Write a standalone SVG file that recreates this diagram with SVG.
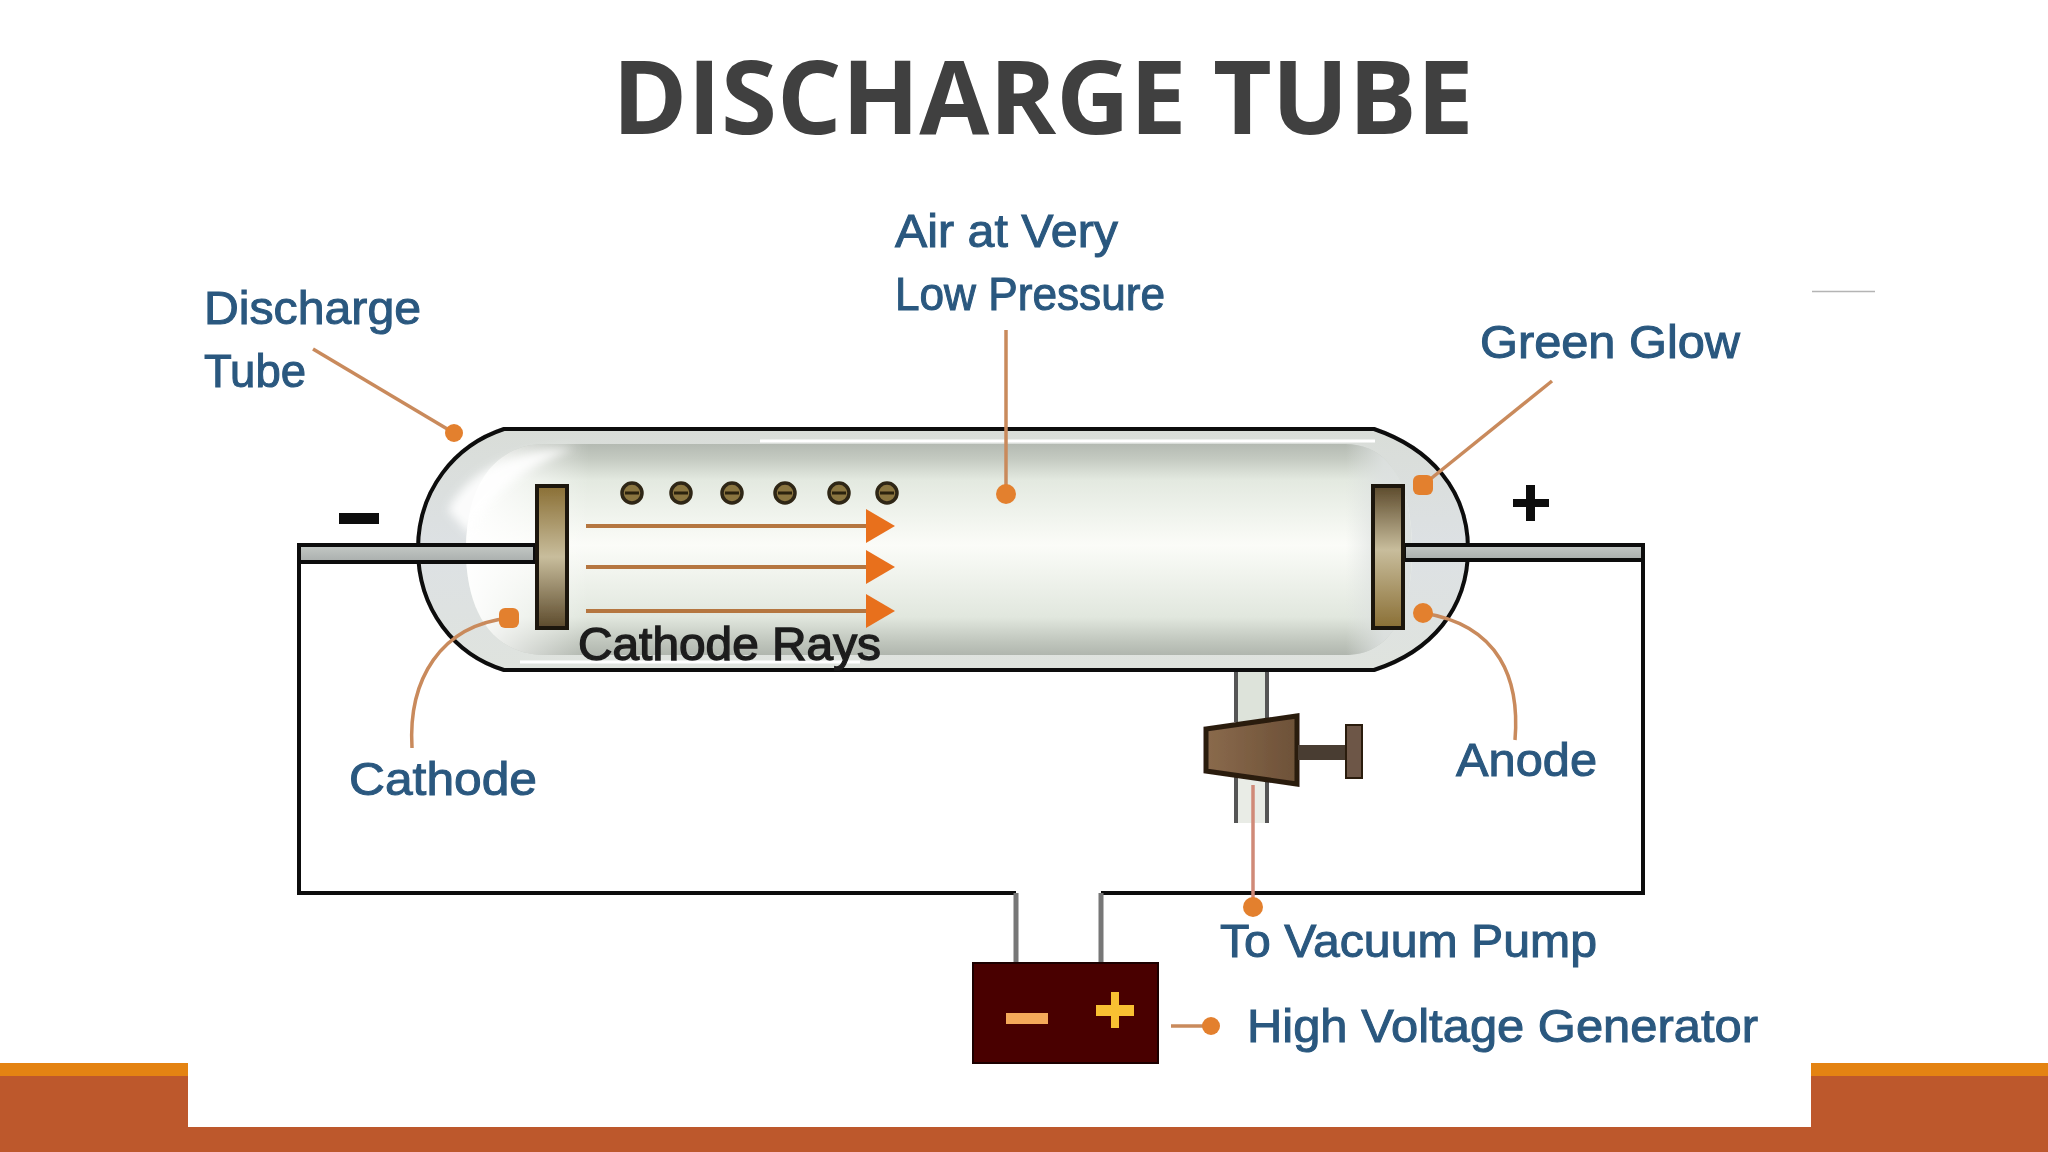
<svg xmlns="http://www.w3.org/2000/svg" width="2048" height="1152" viewBox="0 0 2048 1152">
<defs>
<filter id="soft" x="-2%" y="-2%" width="104%" height="104%"><feGaussianBlur stdDeviation="0.7"/></filter>
<filter id="softer" x="-20%" y="-20%" width="140%" height="140%"><feGaussianBlur stdDeviation="5"/></filter>
<linearGradient id="glass" x1="0" y1="0" x2="0" y2="1"><stop offset="0" stop-color="#d9ddd8"/><stop offset="0.5" stop-color="#dde1e4"/><stop offset="1" stop-color="#dfe3de"/></linearGradient>
<linearGradient id="inner" x1="0" y1="0" x2="0" y2="1"><stop offset="0" stop-color="#b4bab2"/><stop offset="0.07" stop-color="#c4cac1"/><stop offset="0.17" stop-color="#e3e9e0"/><stop offset="0.48" stop-color="#fbfcf8"/><stop offset="0.82" stop-color="#e1e7de"/><stop offset="0.94" stop-color="#bfc5bc"/><stop offset="1" stop-color="#b0b6ae"/></linearGradient>
<linearGradient id="side" x1="0" y1="0" x2="1" y2="0"><stop offset="0" stop-color="#fff" stop-opacity="0.95"/><stop offset="0.13" stop-color="#fff" stop-opacity="0"/><stop offset="0.93" stop-color="#dde1e0" stop-opacity="0"/><stop offset="0.97" stop-color="#dde1e0" stop-opacity="0.9"/><stop offset="1" stop-color="#dde1e0"/></linearGradient>
<linearGradient id="plateL" x1="0" y1="0" x2="0" y2="1"><stop offset="0" stop-color="#8a6f35"/><stop offset="0.5" stop-color="#c8bd9c"/><stop offset="1" stop-color="#5c4a2c"/></linearGradient>
<linearGradient id="plateR" x1="0" y1="0" x2="0" y2="1"><stop offset="0" stop-color="#5c4a2c"/><stop offset="0.45" stop-color="#c8bd9c"/><stop offset="1" stop-color="#8a6f35"/></linearGradient>
<linearGradient id="wire" x1="0" y1="0" x2="0" y2="1"><stop offset="0" stop-color="#c4c9c6"/><stop offset="1" stop-color="#a9aeac"/></linearGradient>
<linearGradient id="cock" x1="0" y1="0" x2="1" y2="0"><stop offset="0" stop-color="#8a6a4c"/><stop offset="1" stop-color="#6d5138"/></linearGradient>
<marker id="ray" markerUnits="userSpaceOnUse" markerWidth="30" markerHeight="34" refX="0" refY="17" orient="auto"><path d="M0 0L29 17L0 34Z" fill="#e8701f"/></marker>
</defs>
<style>
.lbl{font-family:"Liberation Sans",Arial,sans-serif;font-size:46px;fill:#2a587f;stroke:#2a587f;stroke-width:1}
.blk{font-family:"Liberation Sans",Arial,sans-serif;font-size:46px;fill:#1f1f1f;stroke:#1f1f1f;stroke-width:1.4}
.ptr{fill:none;stroke:#c98a5c;stroke-width:3.5}
.dot{fill:#e3802f}
.ln{fill:none;stroke:#0a0a0a;stroke-width:4}
.ray{fill:none;stroke:#b5763f;stroke-width:4;marker-end:url(#ray)}
.e{fill:#8a7440;stroke:#2f2614;stroke-width:3.5}
</style>
<rect width="2048" height="1152" fill="#fff"/>
<rect x="0" y="1063" width="2048" height="13" fill="#e48312"/>
<rect x="0" y="1076" width="2048" height="76" fill="#bd582c"/>
<rect x="188" y="1040" width="1623" height="87" fill="#fff"/>
<line x1="1812" y1="291.500" x2="1875" y2="291.500" stroke="#b4b4b4" stroke-width="1.500"/>
<text x="1043" y="134" text-anchor="middle" font-family="'Open Sans',sans-serif" font-weight="700" font-size="101.500" fill="#404040">DISCHARGE TUBE</text>
<g filter="url(#soft)">
<g id="connectors">
<path class="ln" d="M299 563V893H1016M1643 560V893H1101"/>
<path d="M1016 893V962M1101 893V962" fill="none" stroke="#777" stroke-width="5"/>
</g>
<g id="tube">
<path d="M504 429H1374C1430 448 1468 490 1468 549C1468 610 1430 652 1374 670H504C455 655 418 610 418 549C418 490 455 445 504 429Z" fill="url(#glass)" stroke="#0a0a0a" stroke-width="4"/>
<path d="M1375 441H760" stroke="#fff" stroke-width="3"/>
<path d="M520 662H860" stroke="#fff" stroke-width="3"/>
<path d="M545 444H1345C1390 444 1412 485 1412 550C1412 615 1390 655 1345 655H545C495 655 466 615 466 550C466 485 495 444 545 444Z" fill="url(#inner)"/>
<path d="M545 444H1345C1390 444 1412 485 1412 550C1412 615 1390 655 1345 655H545C495 655 466 615 466 550C466 485 495 444 545 444Z" fill="url(#side)"/>
<path d="M448 510C470 468 515 450 575 448C530 466 490 490 470 535Z" fill="#fff" opacity="0.9" filter="url(#softer)"/>
<rect x="299" y="545" width="236" height="17" fill="url(#wire)" stroke="#0a0a0a" stroke-width="4"/>
<rect x="537" y="486" width="30" height="142" fill="url(#plateL)" stroke="#1c1408" stroke-width="4"/>
<rect x="1404" y="545" width="239" height="15" fill="url(#wire)" stroke="#0a0a0a" stroke-width="4"/>
<rect x="1373" y="486" width="30" height="142" fill="url(#plateR)" stroke="#1c1408" stroke-width="4"/>
</g>
<g id="electrons">
<circle class="e" cx="632" cy="493" r="10"/><circle class="e" cx="681" cy="493" r="10"/><circle class="e" cx="732" cy="493" r="10"/><circle class="e" cx="785" cy="493" r="10"/><circle class="e" cx="839" cy="493" r="10"/><circle class="e" cx="887" cy="493" r="10"/>
<path d="M625 493h14M674 493h14M725 493h14M778 493h14M832 493h14M880 493h14" stroke="#2a2010" stroke-width="3"/>
</g>
<g id="rays">
<path class="ray" d="M586 526H866"/><path class="ray" d="M586 567H866"/><path class="ray" d="M586 611H866"/>
<text class="blk" x="578" y="660" textLength="303" lengthAdjust="spacingAndGlyphs">Cathode Rays</text>
</g>
<g id="stopcock">
<path d="M1236 672V722H1267V672Z" fill="#dde3da"/>
<path d="M1238 775H1265V823H1238Z" fill="#e9ece6"/>
<path d="M1236 672V722M1267 672V722M1236 775V823M1267 775V823" fill="none" stroke="#555" stroke-width="4"/>
<path d="M1206 729L1297 716V784L1206 771Z" fill="url(#cock)" stroke="#2a1c10" stroke-width="5"/>
<rect x="1298" y="745" width="48" height="15" fill="#4a3d30"/>
<rect x="1346" y="725" width="16" height="53" fill="#6d5647" stroke="#2a1c10" stroke-width="2"/>
</g>
<g id="pointers">
<path class="ptr" d="M313 349L454 433"/><circle class="dot" cx="454" cy="433" r="9"/>
<path class="ptr" d="M1006 330V494"/><circle class="dot" cx="1006" cy="494" r="10"/>
<path class="ptr" d="M1552 381L1423 485"/><rect class="dot" x="1413" y="475" width="20" height="20" rx="6"/>
<path class="ptr" d="M412 748C408 680 440 625 510 618"/><rect class="dot" x="499" y="608" width="20" height="20" rx="6"/>
<path class="ptr" d="M1515 740C1520 680 1500 625 1423 613"/><circle class="dot" cx="1423" cy="613" r="10"/>
<path d="M1253 785V907" fill="none" stroke="#d08a78" stroke-width="3.500"/><circle class="dot" cx="1253" cy="907" r="10"/>
<path class="ptr" d="M1171 1026H1213"/><circle class="dot" cx="1211" cy="1026" r="9"/>
</g>
<g id="battery">
<rect x="973" y="963" width="185" height="100" fill="#4a0404" stroke="#1a0505" stroke-width="2"/>
<rect x="1006" y="1013" width="42" height="11" fill="#f4a95a"/>
<path d="M1111 992h8v13h15v11h-15v12h-8v-12h-15v-11h15z" fill="#f8c030"/>
</g>
<g id="signs">
<rect x="339" y="513" width="40" height="11" fill="#0a0a0a"/>
<path d="M1526 485h9v14h14v8h-14v14h-9v-14h-13v-8h13z" fill="#0a0a0a"/>
</g>
<g id="labels">
<text class="lbl" x="204" y="324" textLength="217" lengthAdjust="spacingAndGlyphs">Discharge</text>
<text class="lbl" x="204" y="387" textLength="102" lengthAdjust="spacingAndGlyphs">Tube</text>
<text class="lbl" x="895" y="247" textLength="223" lengthAdjust="spacingAndGlyphs">Air at Very</text>
<text class="lbl" x="895" y="310" textLength="270" lengthAdjust="spacingAndGlyphs">Low Pressure</text>
<text class="lbl" x="1480" y="358" textLength="260" lengthAdjust="spacingAndGlyphs">Green Glow</text>
<text class="lbl" x="349" y="795" textLength="188" lengthAdjust="spacingAndGlyphs">Cathode</text>
<text class="lbl" x="1456" y="776" textLength="141" lengthAdjust="spacingAndGlyphs">Anode</text>
<text class="lbl" x="1220" y="957" textLength="377" lengthAdjust="spacingAndGlyphs">To Vacuum Pump</text>
<text class="lbl" x="1247" y="1042" textLength="511" lengthAdjust="spacingAndGlyphs">High Voltage Generator</text>
</g>
</g>
</svg>
